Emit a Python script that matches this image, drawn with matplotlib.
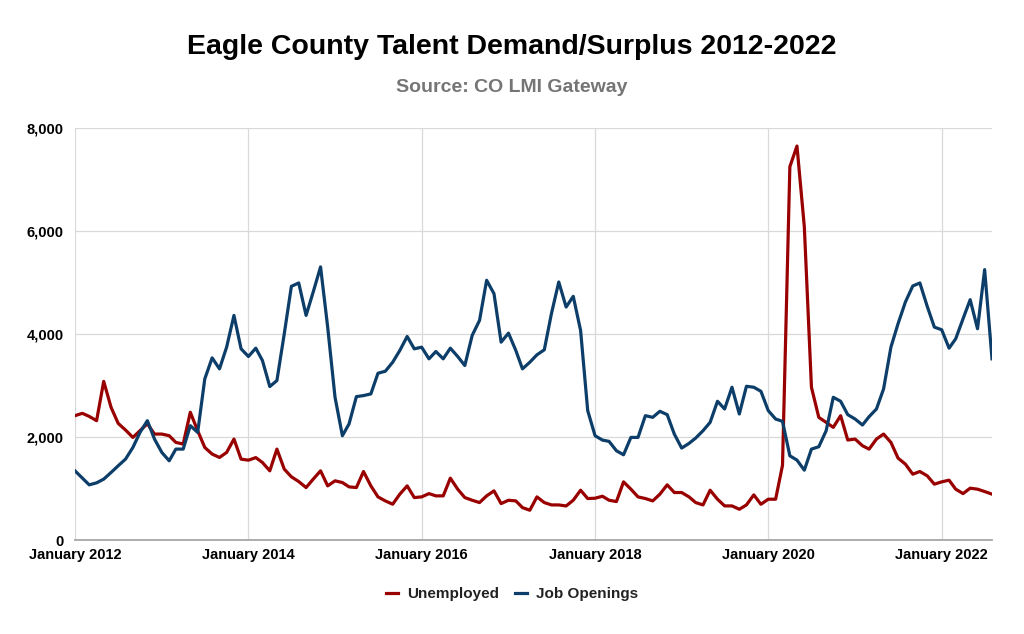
import pandas as pd
import matplotlib
matplotlib.use("Agg")
import matplotlib.pyplot as plt
from matplotlib.ticker import FuncFormatter

# monthly values, January 2012 - August 2022
unemployed = [
    2414, 2460, 2400, 2317, 3080, 2576, 2265, 2135, 1992, 2122, 2258, 2057,
    2057, 2025, 1895, 1863, 2480, 2122, 1797, 1668, 1603, 1700, 1960, 1570,
    1550, 1600, 1505, 1343, 1765, 1376, 1227, 1135, 1018, 1182, 1343, 1051,
    1149, 1116, 1032, 1018, 1330, 1051, 837, 759, 695, 890, 1051, 824,
    837, 901, 857, 857, 1201, 987, 824, 772, 727, 857, 954, 707,
    772, 759, 629, 578, 837, 727, 681, 681, 661, 772, 967, 805,
    811, 850, 772, 746, 1129, 987, 837, 805, 759, 889, 1071, 922,
    922, 837, 727, 681, 967, 792, 662, 662, 597, 681, 876, 694,
    792, 792, 1450, 7249, 7650, 6081, 2965, 2381, 2284, 2187, 2414, 1941,
    1960, 1830, 1765, 1960, 2057, 1895, 1590, 1473, 1278, 1330, 1246, 1084,
    1129, 1162, 987, 901, 1006, 987, 941, 890,
]
job_openings = [
    1343, 1201, 1071, 1110, 1182, 1311, 1441, 1571, 1797, 2089, 2317, 1960,
    1700, 1538, 1765, 1765, 2220, 2089, 3128, 3537, 3323, 3744, 4361, 3712,
    3563, 3725, 3485, 2979, 3096, 4004, 4926, 4991, 4361, 4816, 5303, 4134,
    2771, 2025, 2253, 2784, 2804, 2837, 3238, 3277, 3452, 3680, 3952, 3712,
    3744, 3518, 3660, 3518, 3725, 3563, 3388, 3972, 4264, 5043, 4783, 3842,
    4017, 3680, 3323, 3452, 3596, 3693, 4394, 5010, 4523, 4731, 4069, 2512,
    2025, 1940, 1915, 1733, 1655, 1992, 1992, 2414, 2382, 2499, 2434, 2057,
    1785, 1876, 1979, 2122, 2285, 2694, 2544, 2966, 2447, 2985, 2966, 2888,
    2512, 2349, 2304, 1635, 1551, 1356, 1765, 1811, 2122, 2771, 2694, 2434,
    2349, 2233, 2395, 2544, 2933, 3745, 4199, 4621, 4932, 4991, 4537, 4134,
    4082, 3725, 3907, 4296, 4666, 4102, 5250, 3518,
]
months = pd.date_range("2012-01-01", periods=len(unemployed), freq="MS")
tick_labels = ["January 2012", "January 2014", "January 2016",
               "January 2018", "January 2020", "January 2022"]
tick_dates = pd.to_datetime(tick_labels, format="%B %Y")

red = "#990000"
blue = "#0c3e69"

plt.rcParams["font.family"] = ["Liberation Sans", "DejaVu Sans"]

fig = plt.figure(figsize=(10.24, 6.34), dpi=100)
ax = fig.add_axes([75 / 1024, 94 / 634, 917 / 1024, 412 / 634])

ax.plot(months, unemployed, color=red, lw=2.3, label="Unemployed")
ax.plot(months, job_openings, color=blue, lw=2.3, label="Job Openings")

ax.set_xlim(months[0], months[-1])
ax.set_ylim(0, 8000)
ax.set_yticks([0, 2000, 4000, 6000, 8000])
ax.yaxis.set_major_formatter(FuncFormatter(lambda v, p: f"{int(v):,}"))
ax.set_xticks(tick_dates)
ax.set_xticklabels(tick_labels)

ax.grid(True, color="#d9d9d9", lw=0.9)
ax.set_axisbelow(True)
for side in ["top", "right", "left"]:
    ax.spines[side].set_visible(False)
ax.spines["bottom"].set_color("#a6a6a6")
ax.spines["bottom"].set_linewidth(1.3)
ax.tick_params(length=0, labelsize=10.5)
ax.tick_params(axis="y", pad=8)
ax.tick_params(axis="x", pad=6)
for lab in ax.get_xticklabels() + ax.get_yticklabels():
    lab.set_fontweight("bold")

fig.text(0.5, 1 - 47 / 634, "Eagle County Talent Demand/Surplus 2012-2022",
         ha="center", va="center", fontsize=20.5, fontweight="bold")
fig.text(0.5, 1 - 87 / 634, "Source: CO LMI Gateway", ha="center", va="center",
         fontsize=14, fontweight="bold", color="#757575")

leg = fig.legend(loc="center", bbox_to_anchor=(0.5, 1 - 594 / 634), ncol=2,
                 frameon=False, handlelength=0.8, handletextpad=0.6, columnspacing=1.0,
                 prop={"weight": "bold", "size": 11})
for t in leg.get_texts():
    t.set_color("#222222")

fig.savefig("out.png", dpi=100, facecolor="white")
